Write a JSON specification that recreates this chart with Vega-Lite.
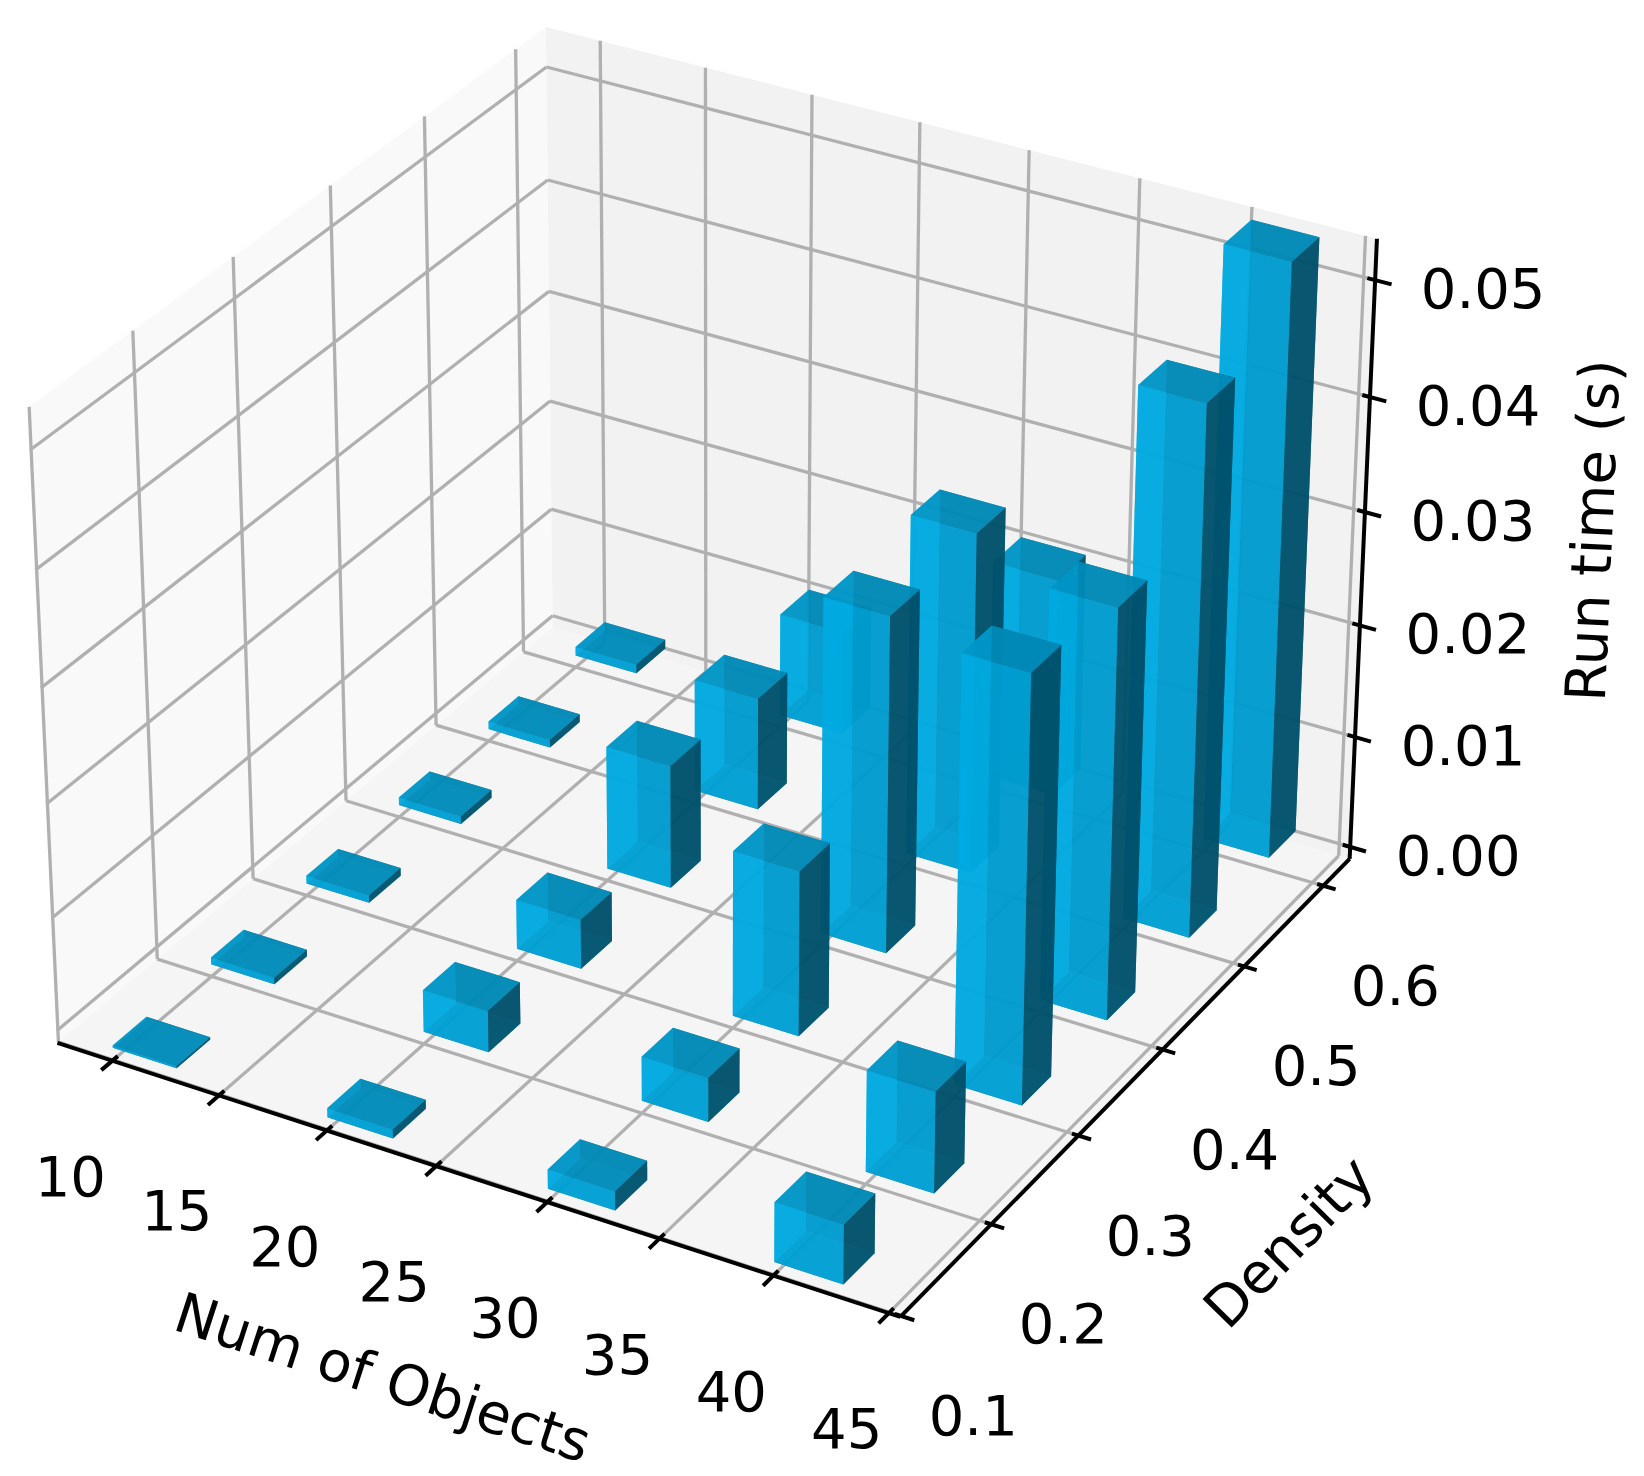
{
  "$schema": "https://vega.github.io/schema/vega-lite/v6.json",
  "width": 1644,
  "height": 1476,
  "padding": 0,
  "autosize": {"type": "none"},
  "background": "white",
  "config": {"view": {"stroke": null}},
  "datasets": {
    "bars": [
      {"num": 10, "density": 0.6, "time": 0.0008},
      {"num": 20, "density": 0.6, "time": 0.0093},
      {"num": 10, "density": 0.5, "time": 0.0007},
      {"num": 30, "density": 0.6, "time": 0.0195},
      {"num": 20, "density": 0.5, "time": 0.0101},
      {"num": 10, "density": 0.4, "time": 0.0007},
      {"num": 40, "density": 0.6, "time": 0.0524},
      {"num": 30, "density": 0.5, "time": 0.0303},
      {"num": 20, "density": 0.4, "time": 0.0110},
      {"num": 10, "density": 0.3, "time": 0.0007},
      {"num": 40, "density": 0.5, "time": 0.0467},
      {"num": 30, "density": 0.4, "time": 0.0298},
      {"num": 20, "density": 0.3, "time": 0.0044},
      {"num": 10, "density": 0.2, "time": 0.0006},
      {"num": 40, "density": 0.4, "time": 0.0360},
      {"num": 30, "density": 0.3, "time": 0.0146},
      {"num": 20, "density": 0.2, "time": 0.0037},
      {"num": 10, "density": 0.1, "time": 0.0002},
      {"num": 40, "density": 0.3, "time": 0.0373},
      {"num": 30, "density": 0.2, "time": 0.0039},
      {"num": 20, "density": 0.1, "time": 0.0008},
      {"num": 40, "density": 0.2, "time": 0.0089},
      {"num": 30, "density": 0.1, "time": 0.0017},
      {"num": 40, "density": 0.1, "time": 0.0052}
    ],
    "ticks": [
      {"axis": "x", "value": 10}, {"axis": "x", "value": 15}, {"axis": "x", "value": 20}, {"axis": "x", "value": 25},
      {"axis": "x", "value": 30}, {"axis": "x", "value": 35}, {"axis": "x", "value": 40}, {"axis": "x", "value": 45},
      {"axis": "y", "value": 0.1}, {"axis": "y", "value": 0.2}, {"axis": "y", "value": 0.3},
      {"axis": "y", "value": 0.4}, {"axis": "y", "value": 0.5}, {"axis": "y", "value": 0.6},
      {"axis": "z", "value": 0}, {"axis": "z", "value": 0.01}, {"axis": "z", "value": 0.02},
      {"axis": "z", "value": 0.03}, {"axis": "z", "value": 0.04}, {"axis": "z", "value": 0.05}
    ],
    "axes": [
      {"axis": "x", "title": "Num of Objects"},
      {"axis": "y", "title": "Density"},
      {"axis": "z", "title": "Run time (s)"}
    ]
  },
  "resolve": {"scale": {"color": "independent"}},
  "layer": [
    {
      "data": {"name": "axes"},
      "transform": [
        {"calculate": "[0,1,2,3]", "as": "verts"},
        {"flatten": ["verts"], "as": ["vert"]},
        {"calculate": "datum.axis=='x' ? 7.4 : [7.4,45.5,45.5,7.4][datum.vert]", "as": "gx"},
        {"calculate": "datum.axis=='x' ? [0.099,0.634,0.634,0.099][datum.vert] : (datum.axis=='y' ? 0.634 : [0.099,0.099,0.634,0.634][datum.vert])", "as": "gy"},
        {"calculate": "datum.axis=='z' ? -0.0011 : [-0.0011,-0.0011,0.0535,0.0535][datum.vert]", "as": "gz"},
        {"calculate": "8/7*((datum.gx-7.4)/38.1-0.5)", "as": "px"},
        {"calculate": "8/7*((datum.gy-0.099)/0.535-0.5)", "as": "py"},
        {"calculate": "6/7*((datum.gz+0.0011)/0.0546-0.5)", "as": "pz"},
        {"calculate": "10-(0.4330127*datum.px-0.75*datum.py+0.5*datum.pz)", "as": "W"},
        {"calculate": "(0.8660254*datum.px+0.5*datum.py)/datum.W", "as": "X"},
        {"calculate": "(-0.25*datum.px+0.4330127*datum.py+0.8660254*datum.pz)/datum.W", "as": "Y"}
      ],
      "mark": {"type": "line", "filled": true, "strokeWidth": 0},
      "encoding": {
        "x": {"field": "X", "type": "quantitative", "scale": {"domain": [-0.0845954, 0.1099148], "nice": false, "zero": false}, "axis": null},
        "y": {"field": "Y", "type": "quantitative", "scale": {"domain": [-0.0986512, 0.075982], "nice": false, "zero": false}, "axis": null},
        "detail": {"field": "axis"},
        "order": {"field": "vert", "type": "quantitative"},
        "color": {"field": "axis", "type": "nominal", "scale": {"domain": ["x", "y", "z"], "range": ["#F9F9F9", "#F2F2F2", "#F5F5F5"]}, "legend": null}
      }
    },
    {
      "data": {"name": "ticks"},
      "transform": [
        {"calculate": "[0,1]", "as": "planes"},
        {"flatten": ["planes"], "as": ["plane"]},
        {"calculate": "[0,1]", "as": "ends"},
        {"flatten": ["ends"], "as": ["end"]},
        {"calculate": "datum.axis=='x' ? datum.value : (datum.axis=='y' ? ((datum.plane==0 && datum.end==1) ? 45.5 : 7.4) : ((datum.plane==1 && datum.end==1) ? 45.5 : 7.4))", "as": "gx"},
        {"calculate": "datum.axis=='y' ? datum.value : ((datum.plane==1 || datum.end==1) ? 0.634 : 0.099)", "as": "gy"},
        {"calculate": "datum.axis=='z' ? datum.value : ((datum.plane==1 && datum.end==1) ? 0.0535 : -0.0011)", "as": "gz"},
        {"calculate": "datum.axis + '_' + datum.value + '_' + datum.plane", "as": "gid"},
        {"calculate": "8/7*((datum.gx-7.4)/38.1-0.5)", "as": "px"},
        {"calculate": "8/7*((datum.gy-0.099)/0.535-0.5)", "as": "py"},
        {"calculate": "6/7*((datum.gz+0.0011)/0.0546-0.5)", "as": "pz"},
        {"calculate": "10-(0.4330127*datum.px-0.75*datum.py+0.5*datum.pz)", "as": "W"},
        {"calculate": "(0.8660254*datum.px+0.5*datum.py)/datum.W", "as": "X"},
        {"calculate": "(-0.25*datum.px+0.4330127*datum.py+0.8660254*datum.pz)/datum.W", "as": "Y"}
      ],
      "mark": {"type": "line", "color": "#b0b0b0", "strokeWidth": 3.3},
      "encoding": {
        "x": {"field": "X", "type": "quantitative", "scale": {"domain": [-0.0845954, 0.1099148], "nice": false, "zero": false}, "axis": null},
        "y": {"field": "Y", "type": "quantitative", "scale": {"domain": [-0.0986512, 0.075982], "nice": false, "zero": false}, "axis": null},
        "detail": {"field": "gid"},
        "order": {"field": "end", "type": "quantitative"}
      }
    },
    {
      "data": {"name": "axes"},
      "transform": [
        {"calculate": "[0,1]", "as": "ends"},
        {"flatten": ["ends"], "as": ["end"]},
        {"calculate": "datum.axis=='x' ? (datum.end==1 ? 45.5 : 7.4) : 45.5", "as": "gx"},
        {"calculate": "datum.axis=='x' ? 0.099 : (datum.axis=='y' ? (datum.end==1 ? 0.634 : 0.099) : 0.634)", "as": "gy"},
        {"calculate": "datum.axis=='z' ? (datum.end==1 ? 0.0535 : -0.0011) : -0.0011", "as": "gz"},
        {"calculate": "8/7*((datum.gx-7.4)/38.1-0.5)", "as": "px"},
        {"calculate": "8/7*((datum.gy-0.099)/0.535-0.5)", "as": "py"},
        {"calculate": "6/7*((datum.gz+0.0011)/0.0546-0.5)", "as": "pz"},
        {"calculate": "10-(0.4330127*datum.px-0.75*datum.py+0.5*datum.pz)", "as": "W"},
        {"calculate": "(0.8660254*datum.px+0.5*datum.py)/datum.W", "as": "X"},
        {"calculate": "(-0.25*datum.px+0.4330127*datum.py+0.8660254*datum.pz)/datum.W", "as": "Y"}
      ],
      "mark": {"type": "line", "color": "black", "strokeWidth": 4},
      "encoding": {
        "x": {"field": "X", "type": "quantitative", "scale": {"domain": [-0.0845954, 0.1099148], "nice": false, "zero": false}, "axis": null},
        "y": {"field": "Y", "type": "quantitative", "scale": {"domain": [-0.0986512, 0.075982], "nice": false, "zero": false}, "axis": null},
        "detail": {"field": "axis"},
        "order": {"field": "end", "type": "quantitative"}
      }
    },
    {
      "data": {"name": "ticks"},
      "transform": [
        {"calculate": "[0,1]", "as": "ends"},
        {"flatten": ["ends"], "as": ["end"]},
        {"calculate": "datum.axis=='x' ? datum.value : (datum.axis=='y' ? (datum.end==0 ? 46.06 : 45.22) : (datum.end==0 ? 46.22 : 45.16))", "as": "gx"},
        {"calculate": "datum.axis=='x' ? (datum.end==0 ? 0.088 : 0.1045) : (datum.axis=='y' ? datum.value : 0.634)", "as": "gy"},
        {"calculate": "datum.axis=='z' ? datum.value : -0.0011", "as": "gz"},
        {"calculate": "datum.axis + '_' + datum.value", "as": "gid"},
        {"calculate": "8/7*((datum.gx-7.4)/38.1-0.5)", "as": "px"},
        {"calculate": "8/7*((datum.gy-0.099)/0.535-0.5)", "as": "py"},
        {"calculate": "6/7*((datum.gz+0.0011)/0.0546-0.5)", "as": "pz"},
        {"calculate": "10-(0.4330127*datum.px-0.75*datum.py+0.5*datum.pz)", "as": "W"},
        {"calculate": "(0.8660254*datum.px+0.5*datum.py)/datum.W", "as": "X"},
        {"calculate": "(-0.25*datum.px+0.4330127*datum.py+0.8660254*datum.pz)/datum.W", "as": "Y"}
      ],
      "mark": {"type": "line", "color": "black", "strokeWidth": 4},
      "encoding": {
        "x": {"field": "X", "type": "quantitative", "scale": {"domain": [-0.0845954, 0.1099148], "nice": false, "zero": false}, "axis": null},
        "y": {"field": "Y", "type": "quantitative", "scale": {"domain": [-0.0986512, 0.075982], "nice": false, "zero": false}, "axis": null},
        "detail": {"field": "gid"},
        "order": {"field": "end", "type": "quantitative"}
      }
    },
    {
      "data": {"name": "bars"},
      "transform": [
        {"calculate": "[0,1,2,3,4,5]", "as": "faces"},
        {"flatten": ["faces"], "as": ["face"]},
        {"calculate": "[0,1,2,3]", "as": "verts"},
        {"flatten": ["verts"], "as": ["vert"]},
        {"calculate": "[[0,1,3,2],[0,2,6,4],[2,3,7,6],[0,1,5,4],[1,3,7,5],[4,5,7,6]][datum.face][datum.vert]", "as": "corner"},
        {"calculate": "datum.num + (datum.corner % 2) * 3", "as": "gx"},
        {"calculate": "datum.density + (floor(datum.corner / 2) % 2) * 0.034", "as": "gy"},
        {"calculate": "floor(datum.corner / 4) * datum.time", "as": "gz"},
        {"calculate": "datum.num + '_' + datum.density + '_' + datum.face", "as": "poly"},
        {"calculate": "8/7*((datum.gx-7.4)/38.1-0.5)", "as": "px"},
        {"calculate": "8/7*((datum.gy-0.099)/0.535-0.5)", "as": "py"},
        {"calculate": "6/7*((datum.gz+0.0011)/0.0546-0.5)", "as": "pz"},
        {"calculate": "10-(0.4330127*datum.px-0.75*datum.py+0.5*datum.pz)", "as": "W"},
        {"calculate": "(0.8660254*datum.px+0.5*datum.py)/datum.W", "as": "X"},
        {"calculate": "(-0.25*datum.px+0.4330127*datum.py+0.8660254*datum.pz)/datum.W", "as": "Y"}
      ],
      "mark": {"type": "line", "filled": true, "strokeWidth": 0, "fillOpacity": 0.82},
      "encoding": {
        "x": {"field": "X", "type": "quantitative", "scale": {"domain": [-0.0845954, 0.1099148], "nice": false, "zero": false}, "axis": null},
        "y": {"field": "Y", "type": "quantitative", "scale": {"domain": [-0.0986512, 0.075982], "nice": false, "zero": false}, "axis": null},
        "detail": {"field": "poly"},
        "order": {"field": "vert", "type": "quantitative"},
        "color": {"field": "face", "type": "nominal", "scale": {"domain": [0, 1, 2, 3, 4, 5], "range": ["#006688", "#00A9E1", "#00506A", "#00A9E1", "#00506A", "#0092C3"]}, "legend": null}
      }
    },
    {
      "data": {"name": "ticks"},
      "transform": [
        {"filter": "datum.axis=='x'"},
        {"calculate": "datum.value", "as": "gx"},
        {"calculate": "0.099", "as": "gy"},
        {"calculate": "-0.0011", "as": "gz"},
        {"calculate": "8/7*((datum.gx-7.4)/38.1-0.5)", "as": "px"},
        {"calculate": "8/7*((datum.gy-0.099)/0.535-0.5)", "as": "py"},
        {"calculate": "6/7*((datum.gz+0.0011)/0.0546-0.5)", "as": "pz"},
        {"calculate": "10-(0.4330127*datum.px-0.75*datum.py+0.5*datum.pz)", "as": "W"},
        {"calculate": "(0.8660254*datum.px+0.5*datum.py)/datum.W", "as": "X"},
        {"calculate": "(-0.25*datum.px+0.4330127*datum.py+0.8660254*datum.pz)/datum.W", "as": "Y"}
      ],
      "mark": {"type": "text", "font": "DejaVu Sans", "fontSize": 56, "align": "center", "baseline": "middle", "dx": -42, "dy": 118, "color": "black"},
      "encoding": {
        "x": {"field": "X", "type": "quantitative", "scale": {"domain": [-0.0845954, 0.1099148], "nice": false, "zero": false}, "axis": null},
        "y": {"field": "Y", "type": "quantitative", "scale": {"domain": [-0.0986512, 0.075982], "nice": false, "zero": false}, "axis": null},
        "text": {"field": "value", "type": "quantitative", "format": "d"}
      }
    },
    {
      "data": {"name": "ticks"},
      "transform": [
        {"filter": "datum.axis=='y'"},
        {"calculate": "45.5", "as": "gx"},
        {"calculate": "datum.value", "as": "gy"},
        {"calculate": "-0.0011", "as": "gz"},
        {"calculate": "8/7*((datum.gx-7.4)/38.1-0.5)", "as": "px"},
        {"calculate": "8/7*((datum.gy-0.099)/0.535-0.5)", "as": "py"},
        {"calculate": "6/7*((datum.gz+0.0011)/0.0546-0.5)", "as": "pz"},
        {"calculate": "10-(0.4330127*datum.px-0.75*datum.py+0.5*datum.pz)", "as": "W"},
        {"calculate": "(0.8660254*datum.px+0.5*datum.py)/datum.W", "as": "X"},
        {"calculate": "(-0.25*datum.px+0.4330127*datum.py+0.8660254*datum.pz)/datum.W", "as": "Y"}
      ],
      "mark": {"type": "text", "font": "DejaVu Sans", "fontSize": 56, "align": "center", "baseline": "middle", "dx": 72, "dy": 102, "color": "black"},
      "encoding": {
        "x": {"field": "X", "type": "quantitative", "scale": {"domain": [-0.0845954, 0.1099148], "nice": false, "zero": false}, "axis": null},
        "y": {"field": "Y", "type": "quantitative", "scale": {"domain": [-0.0986512, 0.075982], "nice": false, "zero": false}, "axis": null},
        "text": {"field": "value", "type": "quantitative", "format": ".1f"}
      }
    },
    {
      "data": {"name": "ticks"},
      "transform": [
        {"filter": "datum.axis=='z'"},
        {"calculate": "45.5", "as": "gx"},
        {"calculate": "0.634", "as": "gy"},
        {"calculate": "datum.value", "as": "gz"},
        {"calculate": "8/7*((datum.gx-7.4)/38.1-0.5)", "as": "px"},
        {"calculate": "8/7*((datum.gy-0.099)/0.535-0.5)", "as": "py"},
        {"calculate": "6/7*((datum.gz+0.0011)/0.0546-0.5)", "as": "pz"},
        {"calculate": "10-(0.4330127*datum.px-0.75*datum.py+0.5*datum.pz)", "as": "W"},
        {"calculate": "(0.8660254*datum.px+0.5*datum.py)/datum.W", "as": "X"},
        {"calculate": "(-0.25*datum.px+0.4330127*datum.py+0.8660254*datum.pz)/datum.W", "as": "Y"}
      ],
      "mark": {"type": "text", "font": "DejaVu Sans", "fontSize": 56, "align": "center", "baseline": "middle", "dx": 108, "dy": 11, "color": "black"},
      "encoding": {
        "x": {"field": "X", "type": "quantitative", "scale": {"domain": [-0.0845954, 0.1099148], "nice": false, "zero": false}, "axis": null},
        "y": {"field": "Y", "type": "quantitative", "scale": {"domain": [-0.0986512, 0.075982], "nice": false, "zero": false}, "axis": null},
        "text": {"field": "value", "type": "quantitative", "format": ".2f"}
      }
    },
    {
      "data": {"name": "axes"},
      "transform": [
        {"filter": "datum.axis=='x'"},
        {"calculate": "26.45", "as": "gx"},
        {"calculate": "0.099", "as": "gy"},
        {"calculate": "-0.0011", "as": "gz"},
        {"calculate": "8/7*((datum.gx-7.4)/38.1-0.5)", "as": "px"},
        {"calculate": "8/7*((datum.gy-0.099)/0.535-0.5)", "as": "py"},
        {"calculate": "6/7*((datum.gz+0.0011)/0.0546-0.5)", "as": "pz"},
        {"calculate": "10-(0.4330127*datum.px-0.75*datum.py+0.5*datum.pz)", "as": "W"},
        {"calculate": "(0.8660254*datum.px+0.5*datum.py)/datum.W", "as": "X"},
        {"calculate": "(-0.25*datum.px+0.4330127*datum.py+0.8660254*datum.pz)/datum.W", "as": "Y"}
      ],
      "mark": {"type": "text", "font": "DejaVu Sans", "fontSize": 56, "align": "center", "baseline": "middle", "angle": 18, "dx": -19, "dy": 220, "color": "black"},
      "encoding": {
        "x": {"field": "X", "type": "quantitative", "scale": {"domain": [-0.0845954, 0.1099148], "nice": false, "zero": false}, "axis": null},
        "y": {"field": "Y", "type": "quantitative", "scale": {"domain": [-0.0986512, 0.075982], "nice": false, "zero": false}, "axis": null},
        "text": {"field": "title", "type": "nominal"}
      }
    },
    {
      "data": {"name": "axes"},
      "transform": [
        {"filter": "datum.axis=='y'"},
        {"calculate": "45.5", "as": "gx"},
        {"calculate": "0.3665", "as": "gy"},
        {"calculate": "-0.0011", "as": "gz"},
        {"calculate": "8/7*((datum.gx-7.4)/38.1-0.5)", "as": "px"},
        {"calculate": "8/7*((datum.gy-0.099)/0.535-0.5)", "as": "py"},
        {"calculate": "6/7*((datum.gz+0.0011)/0.0546-0.5)", "as": "pz"},
        {"calculate": "10-(0.4330127*datum.px-0.75*datum.py+0.5*datum.pz)", "as": "W"},
        {"calculate": "(0.8660254*datum.px+0.5*datum.py)/datum.W", "as": "X"},
        {"calculate": "(-0.25*datum.px+0.4330127*datum.py+0.8660254*datum.pz)/datum.W", "as": "Y"}
      ],
      "mark": {"type": "text", "font": "DejaVu Sans", "fontSize": 56, "align": "center", "baseline": "middle", "angle": 314.5, "dx": -9, "dy": 227, "color": "black"},
      "encoding": {
        "x": {"field": "X", "type": "quantitative", "scale": {"domain": [-0.0845954, 0.1099148], "nice": false, "zero": false}, "axis": null},
        "y": {"field": "Y", "type": "quantitative", "scale": {"domain": [-0.0986512, 0.075982], "nice": false, "zero": false}, "axis": null},
        "text": {"field": "title", "type": "nominal"}
      }
    },
    {
      "data": {"name": "axes"},
      "transform": [
        {"filter": "datum.axis=='z'"},
        {"calculate": "45.5", "as": "gx"},
        {"calculate": "0.634", "as": "gy"},
        {"calculate": "0.0262", "as": "gz"},
        {"calculate": "8/7*((datum.gx-7.4)/38.1-0.5)", "as": "px"},
        {"calculate": "8/7*((datum.gy-0.099)/0.535-0.5)", "as": "py"},
        {"calculate": "6/7*((datum.gz+0.0011)/0.0546-0.5)", "as": "pz"},
        {"calculate": "10-(0.4330127*datum.px-0.75*datum.py+0.5*datum.pz)", "as": "W"},
        {"calculate": "(0.8660254*datum.px+0.5*datum.py)/datum.W", "as": "X"},
        {"calculate": "(-0.25*datum.px+0.4330127*datum.py+0.8660254*datum.pz)/datum.W", "as": "Y"}
      ],
      "mark": {"type": "text", "font": "DejaVu Sans", "fontSize": 56, "align": "center", "baseline": "middle", "angle": 272.5, "dx": 35, "dy": 231, "color": "black"},
      "encoding": {
        "x": {"field": "X", "type": "quantitative", "scale": {"domain": [-0.0845954, 0.1099148], "nice": false, "zero": false}, "axis": null},
        "y": {"field": "Y", "type": "quantitative", "scale": {"domain": [-0.0986512, 0.075982], "nice": false, "zero": false}, "axis": null},
        "text": {"field": "title", "type": "nominal"}
      }
    }
  ]
}
